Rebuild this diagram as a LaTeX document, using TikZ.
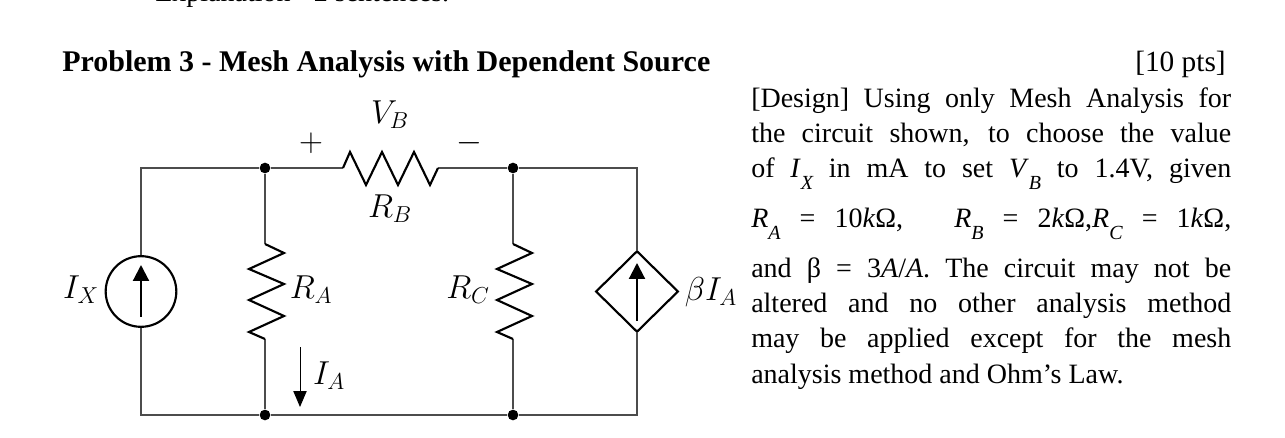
\documentclass[tikz,border=0pt]{standalone}
\usepackage{fontspec}
\usepackage{amsmath}
\setmainfont{Liberation Serif}
\usetikzlibrary{arrows.meta,shapes.geometric}
\newcommand{\subx}[1]{\raisebox{-9pt}{\fontsize{15}{15}\selectfont\itshape #1}}
\begin{document}
\begin{tikzpicture}[x=0.75pt,y=-0.75pt,
		wire_style/.style={draw=black!70,line width=0.9pt},
		res_style/.style={draw=black,line width=1.6pt,line join=miter},
		dot_style/.style={circle,fill=black,inner sep=0pt,minimum size=8pt},
		src_style/.style={circle,draw=black,line width=1.6pt,inner sep=0pt,minimum size=53pt},
		dep_style/.style={diamond,draw=black,line width=1.6pt,inner sep=0pt,minimum width=62pt,minimum height=61pt,aspect=1},
		arrow_style/.style={draw=black,line width=1.6pt,-{Triangle[length=12pt,width=12pt]}},
		thin_arrow/.style={draw=black,line width=0.7pt,-{Triangle[length=12pt,width=10pt]}},
		lab_style/.style={inner sep=0pt,font=\fontsize{25}{30}\selectfont},
		txt_style/.style={inner sep=0pt,anchor=base west,font=\fontsize{21}{24}\selectfont}]
		\useasboundingbox (0,0) rectangle (1285,438);

		% heading
		\node[txt_style] (cut) at (155,2) {Explanation - 2 sentences.};
		\node[txt_style,font=\fontsize{22.5}{26}\selectfont\bfseries] (title) at (62,72) {Problem 3 - Mesh Analysis with Dependent Source};
		\node[txt_style,anchor=base east,font=\fontsize{22}{26}\selectfont] (pts) at (1226,72) {[10 pts]};

		% right column, one line each
		\node[txt_style] (l1) at (751,108) {\makebox[360pt][s]{[Design] Using only Mesh Analysis for}};
		\node[txt_style] (l2) at (751,143) {\makebox[360pt][s]{the circuit shown, to choose the value}};
		\node[txt_style] (l3) at (751,178) {\makebox[360pt][s]{of \textit{I}\subx{X} in mA to set \textit{V}\subx{B} to 1.4V, given}};
		\node[txt_style] (l4) at (751,228) {\makebox[360pt][s]{\textit{R}\subx{A} = 10\textit{k}Ω,\hspace{24pt} \textit{R}\subx{B} = 2\textit{k}Ω,\textit{R}\subx{C} = 1\textit{k}Ω,}};
		\node[txt_style] (l5) at (751,278) {\makebox[360pt][s]{and β = 3\textit{A}/\textit{A}. The circuit may not be}};
		\node[txt_style] (l6) at (751,313) {\makebox[360pt][s]{altered and no other analysis method}};
		\node[txt_style] (l7) at (751,348) {\makebox[360pt][s]{may be applied except for the mesh}};
		\node[txt_style] (l8) at (751,383) {analysis method and Ohm’s Law.};

		% circuit nodes
		\coordinate (tl) at (141,168);
		\coordinate (tr) at (637,168);
		\coordinate (bl) at (141,415);
		\coordinate (br) at (637,415);
		\node[dot_style] (n1) at (265,168) {};
		\node[dot_style] (n2) at (513,168) {};
		\node[dot_style] (n3) at (265,415) {};
		\node[dot_style] (n4) at (513,415) {};
		\node[src_style] (ix) at (141,291.5) {};
		\node[dep_style] (dep) at (637,291.5) {};
		\coordinate (rb1) at (343,168);
		\coordinate (rb2) at (438,168);
		\coordinate (ra1) at (265,244);
		\coordinate (ra2) at (265,339);
		\coordinate (rc1) at (513,244);
		\coordinate (rc2) at (513,339);

		% wires
		\draw[wire_style] (ix) -- (tl) -- (n1) -- (rb1);
		\draw[wire_style] (rb2) -- (n2) -- (tr) -- (dep);
		\draw[wire_style] (ix) -- (bl) -- (n3) -- (n4) -- (br) -- (dep);
		\draw[wire_style] (n1) -- (ra1);
		\draw[wire_style] (ra2) -- (n3);
		\draw[wire_style] (n2) -- (rc1);
		\draw[wire_style] (rc2) -- (n4);

		% resistors
		\draw[res_style] (rb1) -- ++(7,-16) -- ++(16,33) -- ++(16,-33) -- ++(16,33) -- ++(16,-33) -- ++(16,33) -- (rb2);
		\draw[res_style] (ra1) -- ++(19,9) -- ++(-35,16) -- ++(35,15) -- ++(-35,16) -- ++(35,16) -- ++(-35,16) -- (ra2);
		\draw[res_style] (rc1) -- ++(19,9) -- ++(-35,16) -- ++(35,15) -- ++(-35,16) -- ++(35,16) -- ++(-35,16) -- (rc2);

		% arrows
		\coordinate (ix_b) at (141,317);
		\coordinate (ix_t) at (141,265);
		\coordinate (dep_b) at (637,321);
		\coordinate (dep_t) at (637,263);
		\coordinate (ia_t) at (300,347);
		\coordinate (ia_b) at (300,407);
		\draw[arrow_style] (ix_b) -- (ix_t);
		\draw[arrow_style] (dep_b) -- (dep_t);
		\draw[thin_arrow] (ia_t) -- (ia_b);

		% labels
		\node[lab_style] (vb) at (390,115) {$V_B$};
		\node[lab_style] (plus) at (311,143) {$+$};
		\node[lab_style] (minus) at (469,143) {$-$};
		\node[lab_style] (rb) at (390,209) {$R_B$};
		\node[lab_style] (ra) at (311,290) {$R_A$};
		\node[lab_style] (rc) at (468,290) {$R_C$};
		\node[lab_style] (lix) at (81,290) {$I_X$};
		\node[lab_style] (lb) at (711,292) {$\beta I_A$};
		\node[lab_style] (lia) at (329,376) {$I_A$};
\end{tikzpicture}
\end{document}
